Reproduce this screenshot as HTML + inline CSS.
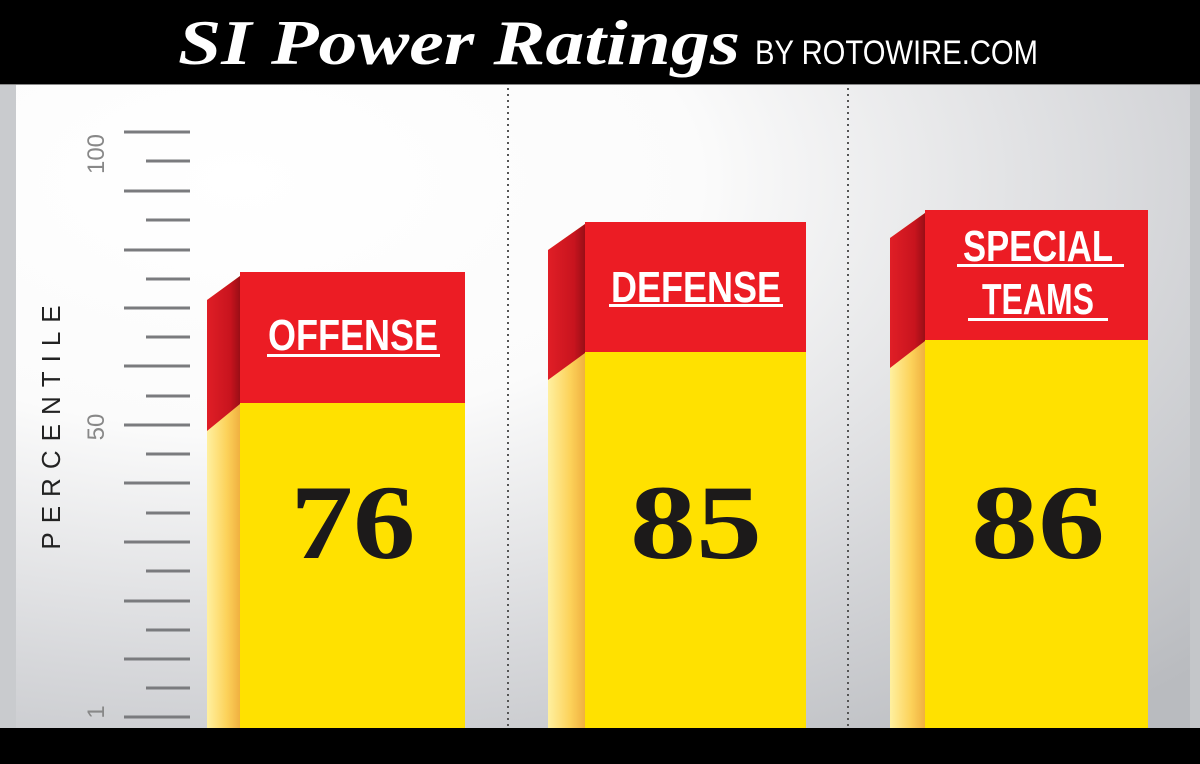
<!DOCTYPE html>
<html><head><meta charset="utf-8"><style>
html,body{margin:0;padding:0;background:#000;}
svg{display:block}
</style></head><body>
<svg width="1200" height="764" xmlns="http://www.w3.org/2000/svg">
<defs>
<radialGradient id="bg" cx="0.2" cy="0.15" r="1.1">
<stop offset="0" stop-color="#ffffff"/>
<stop offset="0.35" stop-color="#fbfbfb"/>
<stop offset="0.7" stop-color="#d6d7da"/>
<stop offset="1" stop-color="#b9bbbf"/>
</radialGradient>
<linearGradient id="side" x1="0" x2="1" y1="0" y2="0">
<stop offset="0" stop-color="#fff0a0"/><stop offset="0.6" stop-color="#fcd25a"/><stop offset="1" stop-color="#f0b040"/>
</linearGradient>
<linearGradient id="sider" x1="0" x2="1" y1="0" y2="0">
<stop offset="0" stop-color="#e01e26"/><stop offset="0.7" stop-color="#c8141e"/><stop offset="1" stop-color="#9a0e16"/>
</linearGradient>
</defs>
<rect x="0" y="0" width="1200" height="764" fill="#000"/>
<rect x="0" y="84" width="1200" height="644" fill="url(#bg)"/>
<rect x="0" y="84" width="16" height="644" fill="#c9cbce"/>
<rect x="1190" y="84" width="10" height="644" fill="#c4c6c9"/>
<line x1="0" y1="84.5" x2="1200" y2="84.5" stroke="#888" stroke-width="1"/>
<line x1="508" y1="88" x2="508" y2="728" stroke="#555" stroke-width="2" stroke-dasharray="2,4"/>
<line x1="848" y1="88" x2="848" y2="728" stroke="#555" stroke-width="2" stroke-dasharray="2,4"/>
<text x="178" y="64" font-family="Liberation Serif,serif" font-style="italic" font-weight="bold" font-size="64" fill="#fff" textLength="562" lengthAdjust="spacingAndGlyphs">SI Power Ratings</text>
<text x="755" y="64" font-family="Liberation Sans,sans-serif" font-size="34" fill="#fff" textLength="283" lengthAdjust="spacingAndGlyphs">BY ROTOWIRE.COM</text>
<g stroke="#7a7b7e" stroke-width="3">
<line x1="124" y1="132" x2="190" y2="132"/><line x1="146" y1="161" x2="190" y2="161"/>
<line x1="124" y1="191" x2="190" y2="191"/><line x1="146" y1="220" x2="190" y2="220"/>
<line x1="124" y1="250" x2="190" y2="250"/><line x1="146" y1="279" x2="190" y2="279"/>
<line x1="124" y1="308" x2="190" y2="308"/><line x1="146" y1="337" x2="190" y2="337"/>
<line x1="124" y1="366" x2="190" y2="366"/><line x1="146" y1="396" x2="190" y2="396"/>
<line x1="124" y1="425" x2="190" y2="425"/><line x1="146" y1="454" x2="190" y2="454"/>
<line x1="124" y1="483" x2="190" y2="483"/><line x1="146" y1="513" x2="190" y2="513"/>
<line x1="124" y1="542" x2="190" y2="542"/><line x1="146" y1="571" x2="190" y2="571"/>
<line x1="124" y1="601" x2="190" y2="601"/><line x1="146" y1="630" x2="190" y2="630"/>
<line x1="124" y1="659" x2="190" y2="659"/><line x1="146" y1="688" x2="190" y2="688"/>
<line x1="124" y1="717" x2="190" y2="717"/>
</g>
<g font-family="Liberation Sans,sans-serif" fill="#888" font-size="24">
<text transform="translate(104,154) rotate(-90)" text-anchor="middle">100</text>
<text transform="translate(104,427) rotate(-90)" text-anchor="middle">50</text>
<text transform="translate(104,712) rotate(-90)" text-anchor="middle">1</text>
</g>
<text transform="translate(60,423) rotate(-90)" text-anchor="middle" font-family="Liberation Sans,sans-serif" font-size="26" letter-spacing="9" fill="#222">PERCENTILE</text>
<polygon points="207,300 240,276 240,728 207,728" fill="url(#side)"/>
<polygon points="207,300 240,276 240,404 207,431" fill="url(#sider)"/>
<rect x="240" y="272" width="225" height="456" fill="#ffe100"/>
<rect x="240" y="272" width="225" height="131" fill="#ec1c24"/>
<polygon points="548,250 585,224 585,728 548,728" fill="url(#side)"/>
<polygon points="548,250 585,224 585,353 548,380" fill="url(#sider)"/>
<rect x="585" y="222" width="221" height="506" fill="#ffe100"/>
<rect x="585" y="222" width="221" height="130" fill="#ec1c24"/>
<polygon points="890,238 925,213 925,728 890,728" fill="url(#side)"/>
<polygon points="890,238 925,213 925,341 890,368" fill="url(#sider)"/>
<rect x="925" y="210" width="223" height="518" fill="#ffe100"/>
<rect x="925" y="210" width="223" height="130" fill="#ec1c24"/>
<g font-family="Liberation Sans,sans-serif" font-weight="bold" fill="#fff" font-size="44" text-anchor="middle">
<text x="353" y="350" textLength="170" lengthAdjust="spacingAndGlyphs">OFFENSE</text>
<rect x="267" y="354" width="173" height="3"/>
<text x="696" y="302" textLength="170" lengthAdjust="spacingAndGlyphs">DEFENSE</text>
<rect x="609" y="304" width="174" height="3"/>
<text x="1038" y="261" textLength="150" lengthAdjust="spacingAndGlyphs">SPECIAL</text>
<rect x="957" y="264" width="167" height="3"/>
<text x="1038" y="314" textLength="112" lengthAdjust="spacingAndGlyphs">TEAMS</text>
<rect x="968" y="318" width="140" height="3"/>
</g>
<g font-family="Liberation Serif,serif" font-weight="bold" fill="#1c1a1a" font-size="106" text-anchor="middle">
<text x="353" y="558" textLength="125" lengthAdjust="spacingAndGlyphs">76</text>
<text x="696" y="558" textLength="132" lengthAdjust="spacingAndGlyphs">85</text>
<text x="1038" y="558" textLength="134" lengthAdjust="spacingAndGlyphs">86</text>
</g>
</svg>
</body></html>
